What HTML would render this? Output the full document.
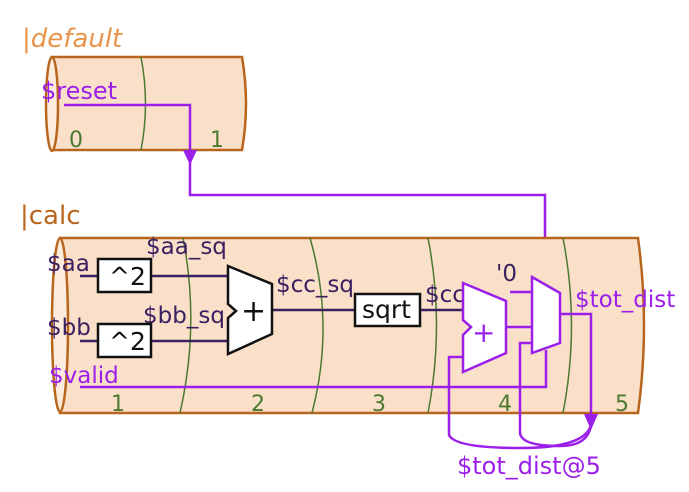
<!DOCTYPE html>
<html><head><style>body{margin:0;background:#fff}svg{display:block}text{font-family:"DejaVu Sans","Liberation Sans",sans-serif}</style></head><body>
<svg width="689" height="492" viewBox="0 0 689 492">
<!-- default -->
<text x="22" y="47" style="font-size:26px;font-style:italic" fill="#e8944a">|default</text>
<path d="M52,57 L242,57 Q250,104 242,150 L52,150 Z" fill="#fbe0c9" stroke="#b8661e" stroke-width="2.5"/>
<ellipse cx="52" cy="104" rx="6" ry="47" fill="#fdebdd" stroke="#b8661e" stroke-width="2.5"/>
<path d="M141,57 Q150,104 141,150" fill="none" stroke="#4a7a30" stroke-width="1.5"/>
<text x="69" y="147" style="font-size:22px" fill="#4a7a30">0</text>
<text x="210" y="147" style="font-size:22px" fill="#4a7a30">1</text>
<text x="41" y="99" style="font-size:24px" fill="#9b1fe8">$reset</text>
<path d="M64,105 L190,105 L190,195 L545,195 L545,283" fill="none" stroke="#9b1fe8" stroke-width="2.5"/>
<path d="M183,150 L197,150 L190,165 Z" fill="#9b1fe8"/>
<!-- calc -->
<text x="20" y="224" style="font-size:26px" fill="#b8661e">|calc</text>
<path d="M60,238 L638,238 Q650,325 638,413 L60,413 Z" fill="#fbe0c9" stroke="#b8661e" stroke-width="2.5"/>
<ellipse cx="60" cy="325" rx="8" ry="87" fill="#fdebdd" stroke="#b8661e" stroke-width="2.5"/>
<g fill="none" stroke="#4a7a30" stroke-width="1.5">
<path d="M183,238 Q200,325 180,413"/><path d="M310,238 Q335,325 312,413"/><path d="M428,238 Q445,325 428,413"/><path d="M563,238 Q580,325 563,413"/>
</g>
<g style="font-size:22px" fill="#4a7a30"><text x="111" y="411">1</text><text x="251" y="411">2</text><text x="372" y="411">3</text><text x="498" y="411">4</text><text x="615" y="411">5</text></g>
<g fill="none" stroke="#3a2060" stroke-width="2.5">
<path d="M80,276 L98,276 M151,276 L228,276 M80,341 L98,341 M151,341 L228,341 M272,310 L355,310 M420,310 L463,310"/>
</g>
<g style="font-size:23px" fill="#3a2060">
<text x="47" y="271">$aa</text><text x="47" y="335">$bb</text><text x="146" y="254">$aa_sq</text><text x="143" y="323">$bb_sq</text><text x="276" y="292">$cc_sq</text><text x="425" y="302">$cc</text><text x="496" y="281">'0</text>
</g>
<g fill="#fff" stroke="#111" stroke-width="2.5">
<rect x="98" y="259" width="53" height="33"/><rect x="98" y="324" width="53" height="33"/><rect x="355" y="294" width="65" height="32"/>
<path d="M228,266 L272,284 L272,334 L228,354 L228,318 L236,311 L228,304 Z"/>
</g>
<g style="font-size:25px" fill="#111"><text x="109" y="285">^2</text><text x="109" y="350">^2</text><text x="362" y="318">sqrt</text><text x="241" y="321" style="font-size:30px">+</text></g>
<g fill="#fff" stroke="#9b1fe8" stroke-width="2.5">
<path d="M463,283 L506,301 L506,353 L463,372 L463,335 L471,327 L463,320 Z"/>
<path d="M532,277 L560,293 L560,343 L532,353 Z"/>
</g>
<text x="472" y="342" style="font-size:28px" fill="#9b1fe8">+</text>
<g fill="none" stroke="#9b1fe8" stroke-width="2.5">
<path d="M510,292 L532,292 M506,327 L532,327 M560,314 L591,314 L591,420"/>
<path d="M80,387 L546,387 L546,350"/>
<path d="M463,357 L449,357 L449,435 Q455,448 520,448 Q585,448 591,425"/>
<path d="M532,343 L520,343 L520,432 Q520,446 560,446 Q588,446 591,425"/>
</g>
<path d="M584,414 L598,414 L591,430 Z" fill="#9b1fe8"/>
<g style="font-size:23px" fill="#9b1fe8"><text x="49" y="383">$valid</text><text x="575" y="307">$tot_dist</text><text x="457" y="474" style="font-size:24px">$tot_dist@5</text></g>
</svg>
</body></html>
